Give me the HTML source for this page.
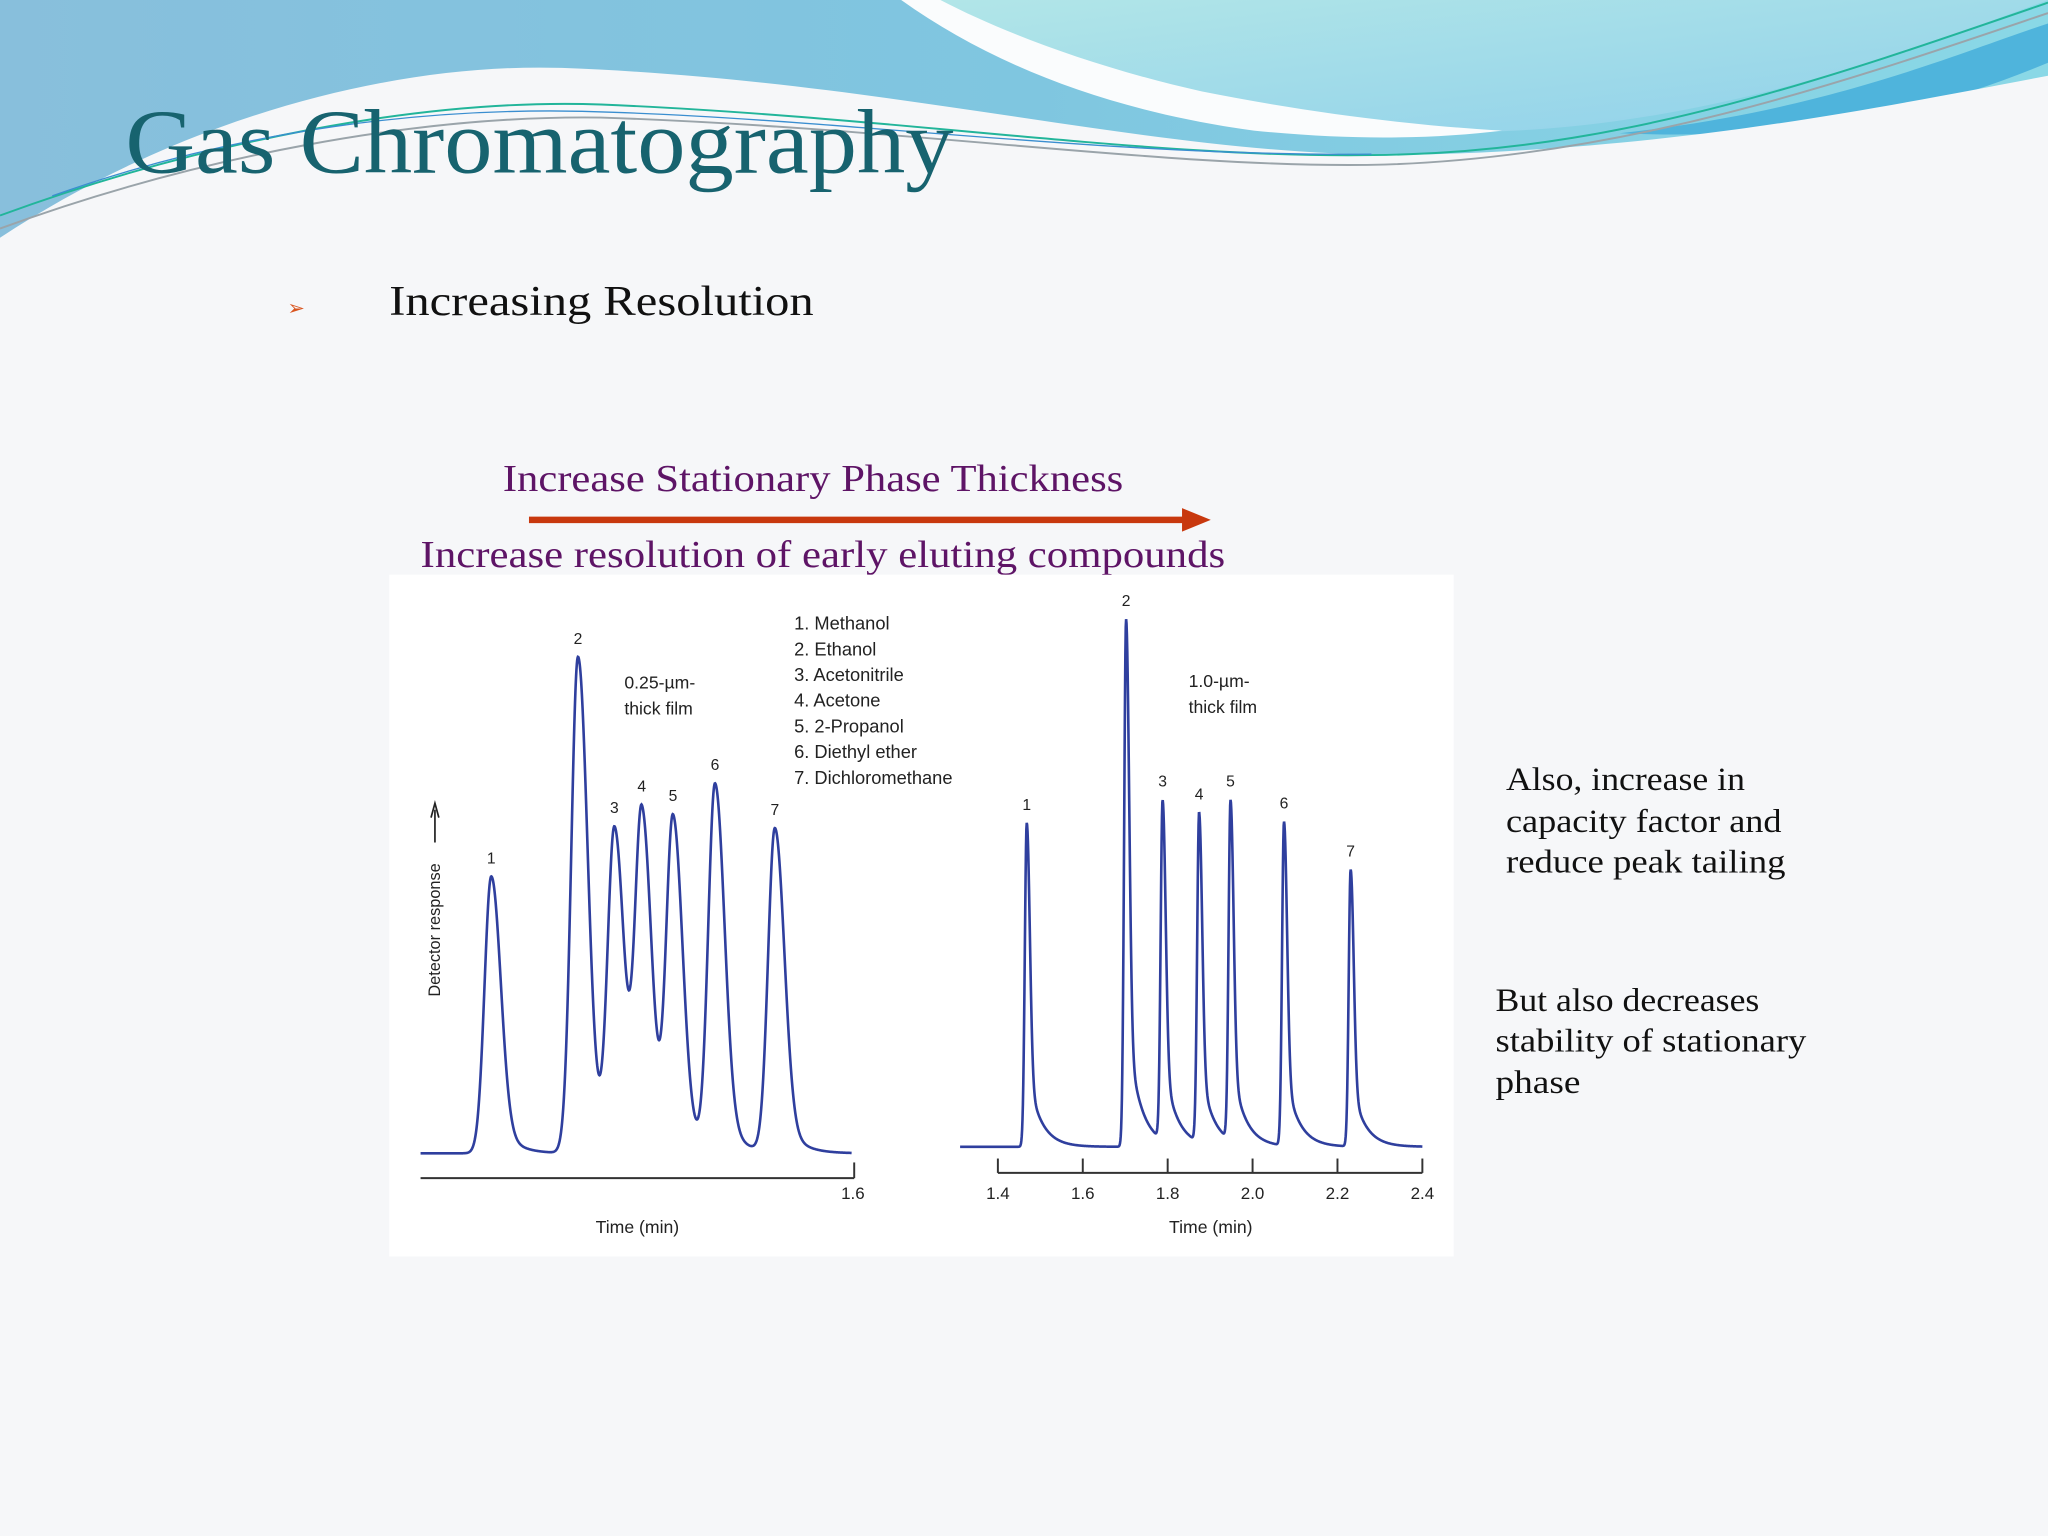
<!DOCTYPE html>
<html><head><meta charset="utf-8"><style>
html,body{margin:0;padding:0;width:2048px;height:1536px;overflow:hidden;background:#f6f7f9}
svg{display:block}
.serif{font-family:"Liberation Serif",serif}
.sans{font-family:"Liberation Sans",sans-serif}
</style></head><body>
<svg id="slide" width="2048" height="1536" viewBox="0 0 1568 1176" xmlns="http://www.w3.org/2000/svg">
<defs>
<linearGradient id="bg1" x1="0" y1="0" x2="1" y2="0"><stop offset="0" stop-color="#88bfdc"/><stop offset="0.5" stop-color="#7fc6e0"/><stop offset="1" stop-color="#8ad8e6"/></linearGradient>
<linearGradient id="bg2" x1="0" y1="0" x2="1" y2="1"><stop offset="0" stop-color="#b2e6e8"/><stop offset="1" stop-color="#8fd0ea"/></linearGradient>
</defs>
<g>
<rect x="0" y="0" width="1568" height="200" fill="url(#bg1)"/>
<path d="M690,0 C800,70 980,110 1160,100 C1320,92 1460,40 1568,0 Z" fill="url(#bg2)"/>
<path d="M690,0 C760,50 850,85 960,100 C1040,108 1100,106 1150,100 C1080,96 1000,86 920,70 C840,52 770,26 720,0 Z" fill="#fafcfd"/>
<path d="M1240,102 C1400,85 1500,40 1568,18 L1568,48 C1480,85 1380,108 1240,102 Z" fill="#4fb4dc"/>
<path d="M0,182 C140,90 300,48 430,52 C700,62 900,125 1100,118 C1300,112 1450,80 1568,58 L1568,1176 L0,1176 Z" fill="#f6f7f9"/>
<path d="M0,165 C150,110 320,75 460,80 C700,90 900,125 1080,118 C1250,112 1400,60 1568,2" fill="none" stroke="#22b59a" stroke-width="1.5"/>
<path d="M0,175 C150,120 320,88 460,90 C700,98 900,130 1060,126 C1250,120 1420,60 1568,10" fill="none" stroke="#9aa4aa" stroke-width="1.5"/>
<path d="M40,150 C180,100 330,80 470,86 C650,92 850,120 1050,118" fill="none" stroke="#3a8ed0" stroke-width="1"/>
</g>
<text class="serif" x="96" y="132" font-size="70" fill="#17636f" textLength="634" lengthAdjust="spacingAndGlyphs">Gas Chromatography</text>
<text x="220" y="241" font-size="16" fill="#d9541e" font-family="DejaVu Sans,sans-serif">➢</text>
<text class="serif" x="298" y="241" font-size="32" fill="#111" textLength="325" lengthAdjust="spacingAndGlyphs">Increasing Resolution</text>
<text class="serif" x="385" y="376" font-size="29" fill="#5e1466" textLength="475" lengthAdjust="spacingAndGlyphs">Increase Stationary Phase Thickness</text>
<g>
<line x1="405" y1="398" x2="908" y2="398" stroke="#c8380e" stroke-width="5"/>
<polygon points="905,389 927,398 905,407" fill="#c8380e"/>
</g>
<text class="serif" x="322" y="434" font-size="29" fill="#5e1466" textLength="616" lengthAdjust="spacingAndGlyphs">Increase resolution of early eluting compounds</text>
<g class="serif" font-size="25" fill="#111">
<text x="1153" y="605" textLength="183" lengthAdjust="spacingAndGlyphs">Also, increase in</text>
<text x="1153" y="637" textLength="211" lengthAdjust="spacingAndGlyphs">capacity factor and</text>
<text x="1153" y="668" textLength="214" lengthAdjust="spacingAndGlyphs">reduce peak tailing</text>
</g>
<g class="serif" font-size="25" fill="#111">
<text x="1145" y="774" textLength="202" lengthAdjust="spacingAndGlyphs">But also decreases</text>
<text x="1145" y="805" textLength="238" lengthAdjust="spacingAndGlyphs">stability of stationary</text>
<text x="1145" y="837" textLength="65" lengthAdjust="spacingAndGlyphs">phase</text>
</g>
<rect x="298" y="440" width="815" height="522" fill="#ffffff"/>
<g id="chart" class="sans"></g>
</svg>
<script>
const peakLabels = ["1","2","3","4","5","6","7"];
const compoundNames = ["1. Methanol","2. Ethanol","3. Acetonitrile","4. Acetone","5. 2-Propanol","6. Diethyl ether","7. Dichloromethane"];
const leftTimes = [0.763, 0.963, 1.047, 1.110, 1.182, 1.279, 1.417];
const leftHeights = [53, 95, 61, 64, 63, 70, 62];
const rightTimes = [1.468, 1.702, 1.788, 1.874, 1.948, 2.074, 2.231];
const rightHeights = [62, 101, 65, 63, 65, 62, 53];
const leftTickValues = [1.6];
const rightTickValues = [1.4, 1.6, 1.8, 2.0, 2.2, 2.4];
const rightTickLabels = ["1.4","1.6","1.8","2.0","2.2","2.4"];

const NS = "http://www.w3.org/2000/svg";
const chart = document.getElementById('chart');
function mk(tag, attrs, parent){const e=document.createElementNS(NS,tag);for(const k in attrs)e.setAttribute(k,attrs[k]);(parent||chart).appendChild(e);return e;}
const xL = t => 654 + (t - 1.6) * 332;
const yL = v => 883 - v * 4;
const xR = t => 764 + (t - 1.4) * 325;
const yR = v => 878 - v * 4;
function shape(d, sl, sr, tau, w){
  if (d <= 0) return Math.exp(-d*d/(2*sl*sl));
  const g = Math.exp(-d*d/(2*sr*sr));
  return g + w*(1-g)*Math.exp(-d/tau);
}
function signal(t, p){
  let s = 0;
  for (let i=0;i<p.times.length;i++) s += p.heights[i]*shape(t-p.times[i], p.sl, p.sr, p.tau, p.w);
  return s;
}
function curve(t0, t1, p, xf, yf){
  let d = "";
  const n = 1200;
  for (let i=0;i<=n;i++){
    const t = t0 + (t1-t0)*i/n;
    d += (i?"L":"M") + xf(t).toFixed(2) + "," + yf(signal(t,p)).toFixed(2);
  }
  return d;
}
const LP = {times:leftTimes, heights:leftHeights, sl:0.0155, sr:0.021, tau:0.035, w:0.18};
const RP = {times:rightTimes, heights:rightHeights, sl:0.0045, sr:0.007, tau:0.03, w:0.25};
const lc = mk('path',{d:curve(0.6,1.594,LP,xL,yL),fill:'none',stroke:'#2f3f9e','stroke-width':2});


const rc = mk('path',{d:curve(1.311,2.4,RP,xR,yR),fill:'none',stroke:'#2f3f9e','stroke-width':2});


leftTimes.forEach((t,i)=>{
  const top = signal(t,LP);
  const e = mk('text',{x:xL(t),y:yL(top)-10,'font-size':12,'text-anchor':'middle',fill:'#222'});
  e.textContent = peakLabels[i];
  
  
});
rightTimes.forEach((t,i)=>{
  const top = signal(t,RP);
  const e = mk('text',{x:xR(t),y:yR(top)-10,'font-size':12,'text-anchor':'middle',fill:'#222'});
  e.textContent = peakLabels[i];
  
  
});
const la = mk('line',{x1:322,y1:902,x2:654,y2:902,stroke:'#333','stroke-width':1.5});


leftTickValues.forEach(v=>{
  const tk = mk('line',{x1:xL(v),y1:890,x2:xL(v),y2:902,stroke:'#333','stroke-width':1.5});
  
  
  const tl = mk('text',{x:xL(v)-1,y:918,'font-size':13,'text-anchor':'middle',fill:'#222'});
  tl.textContent = v.toFixed(1);
  
  
});
const ra = mk('line',{x1:xR(1.4),y1:898,x2:xR(2.4),y2:898,stroke:'#333','stroke-width':1.5});


rightTickValues.forEach((v,i)=>{
  const tk = mk('line',{x1:xR(v),y1:887,x2:xR(v),y2:898,stroke:'#333','stroke-width':1.5});
  
  
  const tl = mk('text',{x:xR(v),y:918,'font-size':13,'text-anchor':'middle',fill:'#222'});
  tl.textContent = rightTickLabels[i];
  
  
});
[[488,'x-axis-title-left'],[927,'x-axis-title-right']].forEach(([x,n])=>{
  const e = mk('text',{x:x,y:944,'font-size':13.5,'text-anchor':'middle',fill:'#222'});
  e.textContent = 'Time (min)';
  
  
});
const yt = mk('text',{x:0,y:0,'font-size':12.5,'text-anchor':'middle',fill:'#222',transform:'translate(337,712) rotate(-90)'});
yt.textContent = 'Detector response';


const ya = mk('path',{d:'M333,645 L333,620 M330,626 L333,615 L336,626',fill:'none',stroke:'#222','stroke-width':1.3});


[[478,527,'0.25-µm-'],[478,547,'thick film'],[910,526,'1.0-µm-'],[910,546,'thick film']].forEach(([x,y,s])=>{
  const e = mk('text',{x:x,y:y,'font-size':13.5,fill:'#222'});
  e.textContent = s;
  
  
});
compoundNames.forEach((s,i)=>{
  const e = mk('text',{x:608,y:482+i*19.7,'font-size':14,fill:'#222'});
  e.textContent = s;
  
  
});
</script>
</body></html>
